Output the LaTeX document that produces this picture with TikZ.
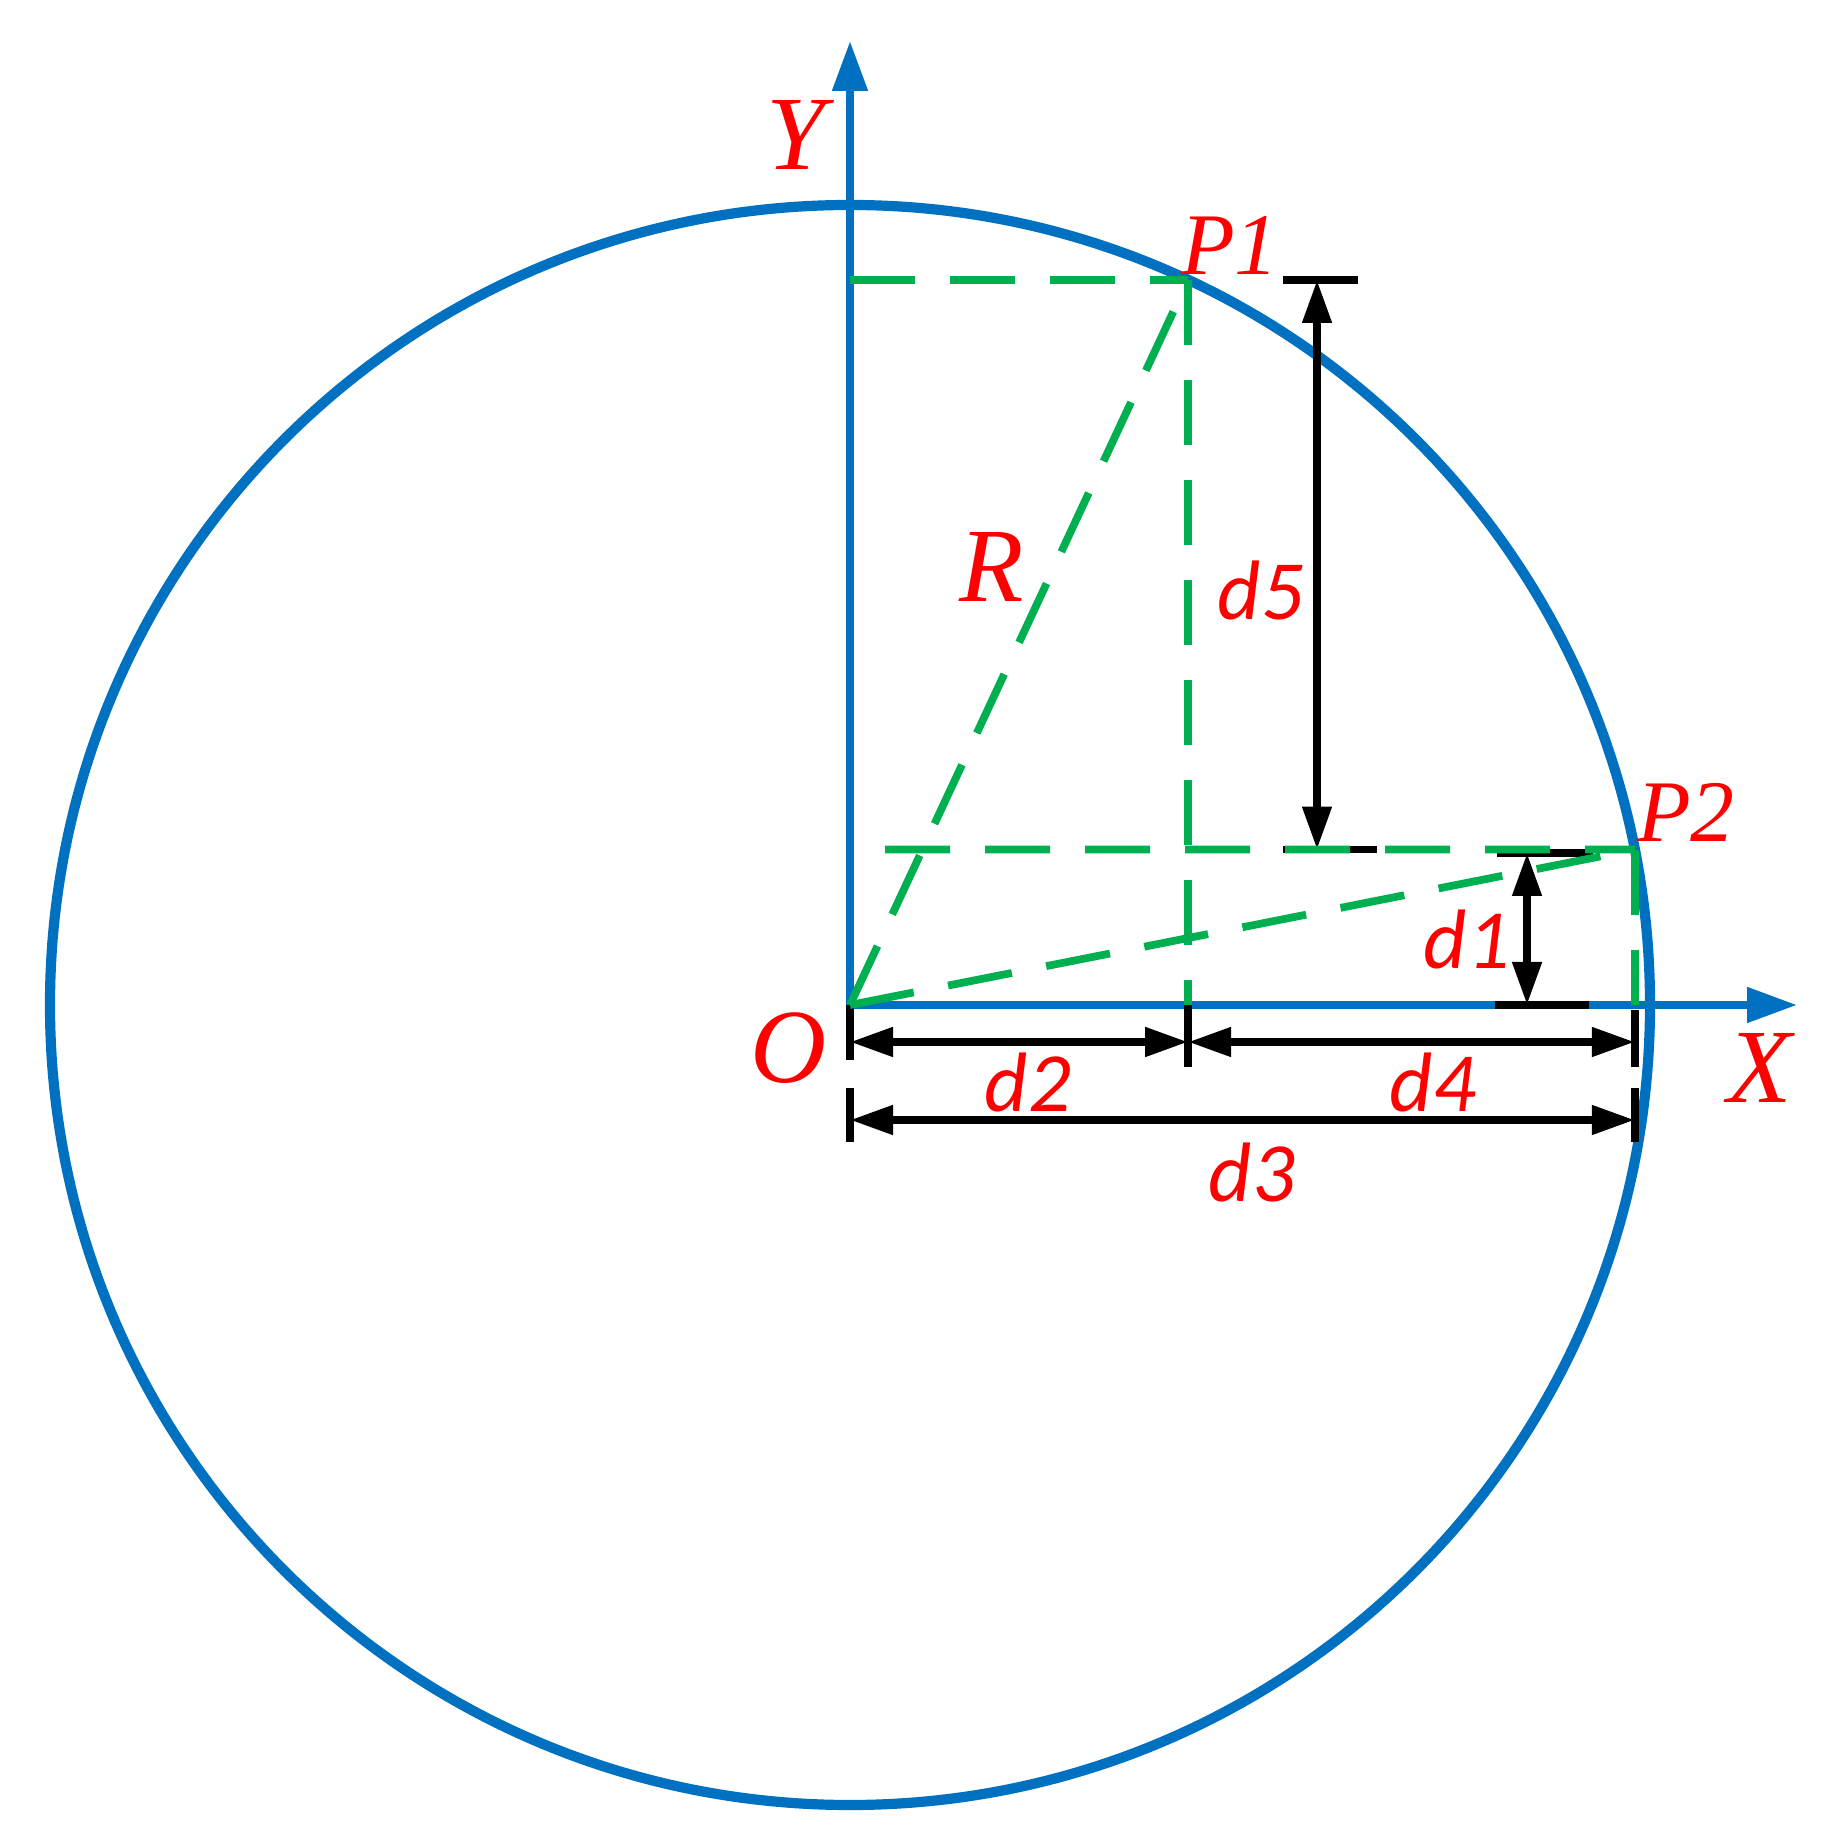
\documentclass[tikz,border=0pt]{standalone}
\usepackage{fontspec}
\usepackage{tikz}
\usetikzlibrary{arrows.meta}
\definecolor{axisblue}{RGB}{0,112,192}
\definecolor{guidegreen}{RGB}{0,176,80}
\newfontfamily\lserif{Liberation Serif}
\newfontfamily\dsans{Carlito}

\begin{document}
\begin{tikzpicture}
    \tikzset{axis/.style = {draw=axisblue, line width=2.3pt, -{Triangle[length=5mm,width=3.4mm]}}}
    \tikzset{guide/.style = {draw=guidegreen, line width=2.2pt, dash pattern=on 6.5mm off 3.5mm}}
    \tikzset{dim/.style = {draw=black, line width=2.2pt, {Triangle[length=4.3mm,width=2.8mm]}-{Triangle[length=4.3mm,width=2.8mm]}}}
    \tikzset{tick/.style = {draw=black, line width=2.2pt}}
    \tikzset{lbl/.style = {text=red, inner sep=0pt, font=\lserif\itshape\fontsize{30}{30}\selectfont}}
    \tikzset{plbl/.style = {lbl, font=\lserif\itshape\fontsize{25}{25}\selectfont}}
    \tikzset{dlbl/.style = {text=red, inner sep=0pt, font=\dsans\itshape\fontsize{24}{24}\selectfont}}

    \useasboundingbox (-8.50,-8.35) rectangle (9.84,10.05);

    % points
    \coordinate (O) at (0,0);
    \coordinate (P1) at (65:8);
    \coordinate (P2) at (11.2:8);
    \coordinate (Ytop) at (0,9.64);
    \coordinate (Xend) at (9.47,0);
    \coordinate (P1y) at (O |- P1);
    \coordinate (P1x) at (P1 |- O);
    \coordinate (P2x) at (P2 |- O);
    \coordinate (P2s) at (0.35,1.554);

    % circle and axes
    \draw[axisblue, line width=2.9pt] (O) circle (8);
    \draw[axis] (O) -- (Ytop);
    \draw[axis] (O) -- (Xend);

    % dimension ticks
    \draw[tick] (4.33,7.25) -- (5.08,7.25);
    \draw[tick] (4.33,1.554) -- (5.27,1.554);
    \draw[tick] (6.47,1.52) -- (7.43,1.52);
    \draw[tick] (6.45,0) -- (7.39,0);
    \draw[tick] (0,0) -- (0,-0.55);
    \draw[tick] (3.381,0) -- (3.381,-0.62);
    \draw[tick] (7.848,-0.05) -- (7.848,-0.62);
    \draw[tick] (0,-0.83) -- (0,-1.37);
    \draw[tick] (7.848,-0.83) -- (7.848,-1.37);

    % dimension arrows
    \coordinate (d5a) at (4.67,7.25);
    \coordinate (d5b) at (4.67,1.554);
    \coordinate (d1a) at (6.77,1.52);
    \coordinate (d1b) at (6.77,0);
    \coordinate (d2a) at (0,-0.37);
    \coordinate (d2b) at (3.381,-0.37);
    \coordinate (d4b) at (7.848,-0.37);
    \coordinate (d3a) at (0,-1.15);
    \coordinate (d3b) at (7.848,-1.15);
    \draw[dim] (d5a) -- (d5b);
    \draw[dim] (d1a) -- (d1b);
    \draw[dim] (d2a) -- (d2b);
    \draw[dim] (d2b) -- (d4b);
    \draw[dim] (d3a) -- (d3b);

    % guide lines
    \draw[guide] (P1y) -- (P1);
    \draw[guide] (P1) -- (P1x);
    \draw[guide] (O) -- (P1);
    \draw[guide] (P2s) -- (P2);
    \draw[guide] (O) -- (P2);
    \draw[guide] (P2) -- (P2x);

    % labels
    \node[lbl] (ylab) at (-0.54,8.70) {Y};
    \node[lbl] (xlab) at (9.10,-0.63) {X};
    \node[lbl] (olab) at (-0.61,-0.43) {O};
    \node[lbl] (rlab) at (1.42,4.38) {R};
    \node[plbl] (p1lab) at (3.80,7.59) {P1};
    \node[plbl] (p2lab) at (8.36,1.93) {P2};
    \node[dlbl] (d1lab) at (6.17,0.65) {d1};
    \node[dlbl] (d2lab) at (1.78,-0.78) {d2};
    \node[dlbl] (d3lab) at (4.02,-1.68) {d3};
    \node[dlbl] (d4lab) at (5.83,-0.78) {d4};
    \node[dlbl] (d5lab) at (4.11,4.14) {d5};
\end{tikzpicture}
\end{document}
